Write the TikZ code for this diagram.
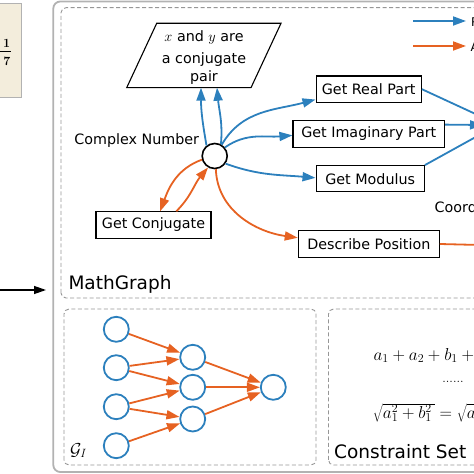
\documentclass[tikz,border=0pt]{standalone}
\usepackage[no-math]{fontspec}
\newfontfamily\dv{DejaVu Sans}
\usetikzlibrary{arrows.meta}
\definecolor{eblue}{RGB}{44,128,189}
\definecolor{eorange}{RGB}{230,98,34}
\definecolor{beige}{RGB}{243,237,220}
\definecolor{dgray}{RGB}{150,150,150}
\definecolor{ogray}{RGB}{178,178,178}
\begin{document}
\begin{tikzpicture}[x=1pt,y=1pt,
  lbl/.style={font=\dv\fontsize{14.3}{17.7}\selectfont},
  opbox/.style={draw, line width=1.1pt, fill=white, minimum height=26.3pt, inner sep=0pt, lbl},
  barr/.style={draw=eblue, line width=1.8pt, -{Triangle[length=13pt,width=9pt]}},
  oarr/.style={draw=eorange, line width=1.8pt, -{Triangle[length=13pt,width=9pt]}},
  gn/.style={circle, draw=eblue, line width=1.8pt, minimum size=25pt, inner sep=0pt},
  dbox/.style={draw=dgray, dash pattern=on 4pt off 2.5pt, line width=0.9pt, rounded corners=5pt},
  txt/.style={inner sep=0pt},
  mth/.style={inner sep=0pt, font=\fontsize{17.28}{20}\selectfont},
]
\useasboundingbox (0,0) rectangle (474,474);
\clip (0,0) rectangle (474,474);

% left beige box
\draw[fill=beige, draw=ogray, line width=1pt] (-10,376) rectangle (21.3,470.7);
\node[txt, font=\fontsize{12.5}{14}\selectfont\bfseries] (num) at (6.7,431) {1};
\node[txt, font=\fontsize{12.5}{14}\selectfont\bfseries] (den) at (7,413) {7};
\coordinate (barL) at (-2,422.3);
\coordinate (barR) at (11,422.3);
\draw[line width=0.8pt] (barL) -- (barR);

% incoming arrow
\coordinate (inL) at (-5,184);
\coordinate (inR) at (46,184);
\draw[line width=1.3pt, -{Triangle[length=12pt,width=8pt]}] (inL) -- (inR);

% outer and dashed frames
\draw[draw=ogray, line width=1.8pt, rounded corners=7pt] (53.3,2) rectangle (560,472.5);
\draw[dbox] (61,176) rectangle (560,466.3);
\draw[dbox] (64,9) rectangle (316,165);
\draw[dbox] (328.5,9) rectangle (560,165);

% legend
\coordinate (lb1) at (413.3,453);
\coordinate (lb2) at (466,453);
\coordinate (lo1) at (413.3,428);
\coordinate (lo2) at (466,428);
\draw[barr] (lb1) -- (lb2);
\draw[oarr] (lo1) -- (lo2);
\node[txt, anchor=base west, font=\dv\fontsize{12}{14}\selectfont] (leg1) at (471,447.3) {Relation};
\node[txt, anchor=base west, font=\dv\fontsize{12}{14}\selectfont] (leg2) at (470.5,422.3) {Action};

% parallelogram
\draw[line width=1.1pt] (156.7,450.7) -- (281,450.7) -- (251,386.3) -- (126.7,386.3) -- cycle;
\node[txt, lbl, align=center] (pg) at (204,416.8) {$x$ and $y$ are\\[4.5pt] a conjugate\\ pair};
\coordinate (pgL) at (201,386.3);
\coordinate (pgR) at (217,386.3);

% complex number
\node[circle, draw, line width=1.6pt, minimum size=25pt, inner sep=0pt, fill=white] (cn) at (214.7,318) {};
\node[txt, lbl, anchor=base east] (cnl) at (199.3,329) {Complex Number};

% operation boxes
\node[opbox, minimum width=105.3pt] (real) at (368.7,384.8) {Get Real Part};
\node[opbox, minimum width=151.7pt] (imag) at (368.8,340) {Get Imaginary Part};
\node[opbox, minimum width=108.3pt] (mod) at (370.2,295.2) {Get Modulus};
\node[opbox, minimum width=115pt] (conj) at (153.5,249) {Get Conjugate};
\node[opbox, minimum width=141pt] (desc) at (368.8,230) {Describe Position};
\node[txt, lbl, anchor=base west] (coordl) at (434.5,261.7) {Coordinate};

\node[txt, anchor=base west, font=\dv\fontsize{18.5}{22}\selectfont] (mgl) at (68.3,184) {MathGraph};

% edges from complex number
\draw[barr] (cn.128) to[out=100,in=-90] (pgL);
\draw[barr] (cn.62) to[out=85,in=-85] (pgR);
\draw[barr] (cn.58) to[out=60,in=195] (real.191);
\draw[barr] (cn.40) to[out=35,in=185] (imag.181);
\draw[barr] (cn.-35) to[out=-20,in=175] (mod.179);
\draw[oarr] (cn.196) to[out=200,in=70] (conj.64);
\draw[oarr] (conj.31) to[out=45,in=230] (cn.240);
\draw[oarr] (cn.-85) to[out=-88,in=172] (desc.175);

% edges leaving to the right
\coordinate (tR) at (495,351);
\coordinate (tI) at (483,349);
\coordinate (tM) at (492,346);
\coordinate (tD) at (500,228.5);
\draw[barr] (real.east) -- (tR);
\draw[barr] (imag.7.5) -- (tI);
\draw[barr] (mod.north east) -- (tM);
\draw[oarr] (desc.east) -- (tD);

% G_I network
\node[gn] (a1) at (116.3,144.7) {};
\node[gn] (a2) at (116.3,106.3) {};
\node[gn] (a3) at (116.3,67.3) {};
\node[gn] (a4) at (116.3,28.3) {};
\node[gn] (b1) at (192.7,116.7) {};
\node[gn] (b2) at (192.7,86.7) {};
\node[gn] (b3) at (192.7,55) {};
\node[gn] (c1) at (273.3,86.7) {};
\draw[oarr] (a1) -- (b1);
\draw[oarr] (a2) -- (b1);
\draw[oarr] (a2) -- (b2);
\draw[oarr] (a3) -- (b2);
\draw[oarr] (a3) -- (b3);
\draw[oarr] (a4) -- (b3);
\draw[oarr] (b1) -- (c1);
\draw[oarr] (b2) -- (c1);
\draw[oarr] (b3) -- (c1);
\node[mth, anchor=base west] (gil) at (70,19) {$\mathcal{G}_I$};

% constraint set
\node[mth, anchor=base west] (eq1) at (373.3,113.8) {$a_1+a_2+b_1+b_2=0$};
\node[txt, anchor=base, font=\fontsize{13}{15}\selectfont] (dots) at (453,91.3) {......};
\node[mth, anchor=base west] (eq2) at (372.7,55.7) {$\sqrt{a_1^2+b_1^2\,}=\sqrt{a_2^2+b_2^2\,}$};
\node[txt, anchor=base west, font=\dv\fontsize{18.5}{22}\selectfont] (csl) at (334,15.7) {Constraint Set};
\end{tikzpicture}
\end{document}
